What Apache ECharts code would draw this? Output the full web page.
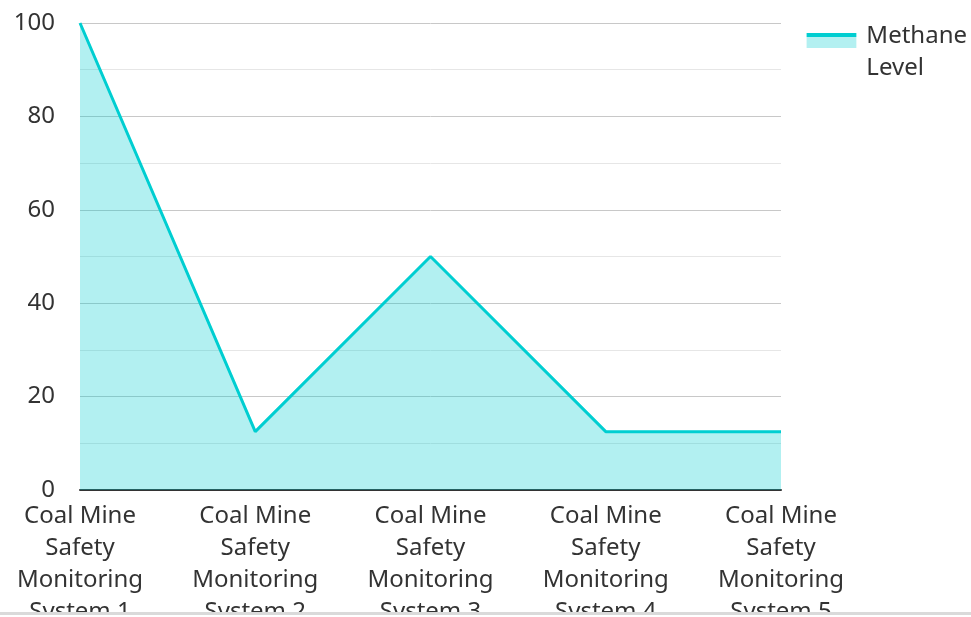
<!DOCTYPE html>
<html>
<head>
<meta charset="utf-8">
<script src="https://cdn.jsdelivr.net/npm/echarts@6/dist/echarts.min.js"></script>
<style>
  html, body { margin: 0; padding: 0; background: #fff; overflow: hidden; }
  #chart { width: 971px; height: 612px; }
  #bar { width: 971px; height: 3px; background: #dadada; }
</style>
</head>
<body>
<div id="chart"></div>
<div id="bar"></div>
<script>
const categories = [
  'Coal Mine Safety Monitoring System 1',
  'Coal Mine Safety Monitoring System 2',
  'Coal Mine Safety Monitoring System 3',
  'Coal Mine Safety Monitoring System 4',
  'Coal Mine Safety Monitoring System 5'
]
const methaneLevel = [100, 12.5, 50, 12.5, 12.5]
const seriesName = 'Methane Level'
const fontName = 'Noto Sans'

// legend swatch: line on top of the filled area (extra 5px transparent on the right)
const iconSvg = "<svg xmlns='http://www.w3.org/2000/svg' width='55' height='64' viewBox='0 0 55 64'>" +
  "<rect x='0' y='17' width='50' height='11' fill='#b3f0f1'/>" +
  "<rect x='0' y='13' width='50' height='4' fill='#00ced1'/></svg>"
const legendIcon = 'image://data:image/svg+xml;charset=utf-8,' + encodeURIComponent(iconSvg)

const chart = echarts.init(document.getElementById('chart'))

const option = {
  textStyle: { fontFamily: fontName },
  legend: {
    orient: 'vertical',
    right: 4,
    top: 20,
    padding: 0,
    icon: legendIcon,
    itemWidth: 55,
    itemHeight: 64,
    itemGap: 10,
    formatter: () => 'Methane\nLevel',
    textStyle: { fontSize: 24, color: '#333', lineHeight: 32, fontFamily: fontName },
    data: [seriesName]
  },
  grid: { left: 80, right: 190, top: 23, bottom: 122, outerBoundsMode: 'none' },
  xAxis: {
    type: 'category',
    boundaryGap: false,
    data: categories,
    axisLine: { lineStyle: { color: '#333', width: 2 } },
    axisTick: { show: false },
    axisLabel: {
      fontSize: 24,
      color: '#333',
      lineHeight: 32,
      margin: 10,
      interval: 0,
      formatter: v => v.replace('Coal Mine Safety Monitoring ', 'Coal Mine\nSafety\nMonitoring\n')
    }
  },
  yAxis: {
    type: 'value',
    min: 0,
    max: 100,
    interval: 20,
    axisLine: { show: false },
    axisTick: { show: false },
    axisLabel: { fontSize: 24, color: '#333', margin: 25 },
    splitLine: { lineStyle: { color: '#c8c8c8', width: 1 } },
    minorTick: { show: false, splitNumber: 2 },
    minorSplitLine: { show: true, lineStyle: { color: '#e6e6e6', width: 1 } }
  },
  series: [
    {
      name: seriesName,
      type: 'line',
      data: methaneLevel,
      showSymbol: false,
      symbol: 'none',
      lineStyle: { color: '#00CED1', width: 3 },
      itemStyle: { color: '#00CED1' },
      areaStyle: { color: '#00CED1', opacity: 0.3 }
    }
  ]
}

chart.setOption(option)
</script>
</body>
</html>
